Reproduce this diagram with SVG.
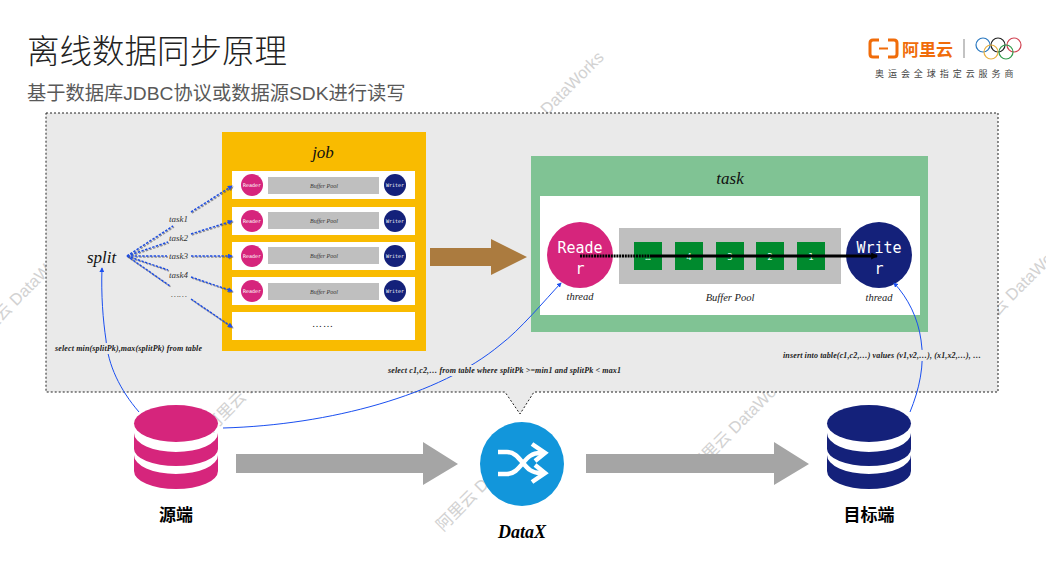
<svg xmlns="http://www.w3.org/2000/svg" width="1046" height="575" viewBox="0 0 1046 575">
<style>
.wm{font:16.5px "Liberation Sans","Noto Sans CJK SC",sans-serif;fill:#d2d2d2}
.ser{font-family:"Liberation Serif","Noto Sans CJK SC",serif;font-style:italic}
.sql{font:italic bold 8px "Liberation Serif",serif;fill:#1a1a1a}
.task{font:italic 9px "Liberation Serif",serif;fill:#333;}
.mini{font:5px "DejaVu Sans Mono",monospace;fill:#fff;text-anchor:middle}
.bp{font:italic 6px "Liberation Serif",serif;fill:#333;text-anchor:middle}
.row{fill:#fff}.buf{fill:#bfbfbf}.rd{fill:#d6257c}.wr{fill:#14217a}
.gr{fill:#008a2e}.num{font:9px "DejaVu Sans Mono",monospace;fill:#dfe;text-anchor:middle}
.big{font:15px "DejaVu Sans Mono","Noto Sans CJK SC",monospace;fill:#fff;text-anchor:middle}
.dash{fill:none;stroke:#1f4fe0;stroke-width:1.5;stroke-dasharray:2.4 1.4;filter:url(#sh)}
.blue{fill:none;stroke:#1a4ff0;stroke-width:1}
.cap{font:bold 17px "Noto Sans CJK SC",sans-serif;fill:#000;text-anchor:middle}
.ring{fill:none;stroke-width:1.2}
</style>
<defs>
<filter id="sh" filterUnits="userSpaceOnUse" x="100" y="170" width="150" height="170"><feDropShadow dx="1" dy="1" stdDeviation="0.6" flood-color="#555" flood-opacity="0.6"/></filter>
<marker id="ab" viewBox="0 0 6 6" refX="5" refY="3" markerWidth="5" markerHeight="5" orient="auto" markerUnits="userSpaceOnUse"><path d="M0 0L6 3L0 6z" fill="#1a4ff0"/></marker>
<marker id="ak" viewBox="0 0 6 6" refX="5" refY="3" markerWidth="7" markerHeight="7" orient="auto" markerUnits="userSpaceOnUse"><path d="M0 0L6 3L0 6z" fill="#000"/></marker>
</defs>
<rect width="1046" height="575" fill="#fff"/>
<g id="watermarks">
<text class="wm" transform="translate(-22,345) rotate(-45)">阿里云  DataWorks</text>
<text class="wm" transform="translate(212,433) rotate(-45)">阿里云  DataWorks</text>
<text class="wm" transform="translate(443,532) rotate(-45)">阿里云  DataWorks</text>
<text class="wm" transform="translate(509,154) rotate(-45)">阿里云  DataWorks</text>
<text class="wm" transform="translate(697,473) rotate(-45)">阿里云  DataWorks</text>
<text class="wm" transform="translate(974,340) rotate(-45)">阿里云  DataWorks</text>
</g>
<g id="title">
<text x="27" y="63" font-family="Noto Sans CJK SC,sans-serif" font-weight="300" font-size="32.5" fill="#222">离线数据同步原理</text>
<text x="27" y="99.500" font-family="Liberation Sans,Noto Sans CJK SC,sans-serif" font-size="19.250" fill="#595959">基于数据库JDBC协议或数据源SDK进行读写</text>
</g>
<g id="logo">
<path d="M879 40H873Q870 40 870 43V54Q870 57 873 57H879M888 40H894Q897 40 897 43V54Q897 57 894 57H888" fill="none" stroke="#f06c0a" stroke-width="3"/>
<rect x="879" y="47.5" width="9" height="2" fill="#f06c0a"/>
<text x="902" y="56" font-family="Noto Sans CJK SC,sans-serif" font-weight="700" font-size="17" fill="#f06c0a">阿里云</text>
<rect x="963.5" y="39" width="1" height="19" fill="#888"/>
<circle class="ring" cx="983" cy="45" r="7" stroke="#2a78c0"/>
<circle class="ring" cx="998" cy="45" r="7" stroke="#222"/>
<circle class="ring" cx="1014" cy="45" r="7" stroke="#d04050"/>
<circle class="ring" cx="991" cy="52" r="7" stroke="#e8b040"/>
<circle class="ring" cx="1006" cy="52" r="7" stroke="#2f9a4a"/>
<text x="875" y="77" font-family="Noto Sans CJK SC,sans-serif" font-size="9" letter-spacing="3.95" fill="#444">奥运会全球指定云服务商</text>
</g>
<path id="panel" d="M46 113H998V392H534L520 414L505 392H46Z" fill="#eaeaea" stroke="#222" stroke-width="1" stroke-dasharray="2 2"/>
<g id="job">
<rect x="222" y="132" width="204" height="219" fill="#f9bb00"/>
<text class="ser" x="323" y="158" font-size="17" text-anchor="middle" fill="#111">job</text>
<rect class="row" x="232" y="171" width="183" height="28"/><rect class="row" x="232" y="207" width="183" height="28"/><rect class="row" x="232" y="242" width="183" height="28"/><rect class="row" x="232" y="277" width="183" height="28"/><rect class="row" x="232" y="312" width="183" height="28"/>
<rect class="buf" x="268" y="177" width="111" height="17"/><rect class="buf" x="268" y="212" width="111" height="17"/><rect class="buf" x="268" y="247" width="111" height="17"/><rect class="buf" x="268" y="283" width="111" height="17"/>
<text class="bp" x="324" y="188">Buffer Pool</text><text class="bp" x="324" y="223">Buffer Pool</text><text class="bp" x="324" y="258">Buffer Pool</text><text class="bp" x="324" y="294">Buffer Pool</text>
<circle class="rd" cx="252" cy="185" r="11"/><circle class="rd" cx="252" cy="221" r="11"/><circle class="rd" cx="252" cy="256" r="11"/><circle class="rd" cx="252" cy="291" r="11"/>
<circle class="wr" cx="395" cy="185" r="11"/><circle class="wr" cx="395" cy="221" r="11"/><circle class="wr" cx="395" cy="256" r="11"/><circle class="wr" cx="395" cy="291" r="11"/>
<text class="mini" x="252" y="187">Reader</text><text class="mini" x="252" y="223">Reader</text><text class="mini" x="252" y="258">Reader</text><text class="mini" x="252" y="293">Reader</text>
<text class="mini" x="395" y="187">Writer</text><text class="mini" x="395" y="223">Writer</text><text class="mini" x="395" y="258">Writer</text><text class="mini" x="395" y="293">Writer</text>
<text x="323" y="327" font-family="Liberation Serif,serif" font-size="10" letter-spacing="1" text-anchor="middle" fill="#111">……</text>
</g>
<g id="split"><text class="ser" x="87" y="263" font-size="17" fill="#111">split</text></g>
<g id="tasks">
<text class="task" x="169" y="222">task1</text><text class="task" x="169" y="241">task2</text><text class="task" x="169" y="259">task3</text><text class="task" x="169" y="278">task4</text>
<text class="task" x="171" y="297">……</text>
</g>
<path id="big-arrow" d="M430 248H491V239L527 257L491 275V266H430Z" fill="#ab7b3f"/>
<g id="task">
<rect x="531" y="156" width="397" height="176" fill="#80c394"/>
<text class="ser" x="730" y="184" font-size="17" text-anchor="middle" fill="#111">task</text>
<rect x="540" y="196" width="380" height="119" fill="#fff"/>
<rect x="619" y="228" width="222" height="56" class="buf"/>
<rect class="gr" x="634" y="242" width="28" height="28"/><rect class="gr" x="675" y="242" width="28" height="28"/><rect class="gr" x="716" y="242" width="28" height="28"/><rect class="gr" x="756" y="242" width="28" height="28"/><rect class="gr" x="797" y="242" width="28" height="28"/>
<text class="num" x="648" y="260">…</text><text class="num" x="689" y="260">4</text><text class="num" x="730" y="260">3</text><text class="num" x="770" y="260">2</text><text class="num" x="811" y="260">1</text>
<circle class="rd" cx="580" cy="255" r="33"/><circle class="wr" cx="879" cy="255" r="33"/>
<text class="big" x="580" y="253">Reade</text><text class="big" x="580" y="274">r</text>
<text class="big" x="879" y="253">Write</text><text class="big" x="879" y="274">r</text>
<text class="ser" x="580" y="300" font-size="10.5" text-anchor="middle" fill="#222">thread</text>
<text class="ser" x="730" y="301" font-size="10.5" text-anchor="middle" fill="#222">Buffer Pool</text>
<text class="ser" x="879" y="301" font-size="10.5" text-anchor="middle" fill="#222">thread</text>
</g>
<g id="connectors">
<path d="M580 256H650" stroke="#000" stroke-width="2.8" stroke-dasharray="2 0.8" fill="none"/>
<path d="M650 256H877" stroke="#000" stroke-width="2.8" marker-end="url(#ak)" fill="none"/>
<path class="dash" d="M127 256L173 226"/><path class="dash" d="M191 212L232 186" marker-end="url(#ab)"/>
<path class="dash" d="M127 256L168 242"/><path class="dash" d="M191 234L232 221" marker-end="url(#ab)"/>
<path class="dash" d="M127 256L167 256"/><path class="dash" d="M191 256L232 256" marker-end="url(#ab)"/>
<path class="dash" d="M127 256L168 270"/><path class="dash" d="M191 277L232 291" marker-end="url(#ab)"/>
<path class="dash" d="M127 256L170 286"/><path class="dash" d="M191 299L232 327" marker-end="url(#ab)"/>
<path class="blue" d="M139 412C120 390 108 365 106 340C103 320 101 295 102 268" marker-end="url(#ab)"/>
<path class="blue" d="M223 428C330 425 440 395 500 345C520 330 545 300 561 283" marker-end="url(#ab)"/>
<path class="blue" d="M910 412C919 390 925 365 921 340C918 318 908 298 894 283" marker-end="url(#ab)"/>
</g>
<g id="sql-labels">
<rect x="55" y="343" width="147" height="11" fill="#eaeaea"/>
<text class="sql" x="55" y="351" textLength="147">select min(splitPk),max(splitPk) from table</text>
<rect x="388" y="365" width="234" height="11" fill="#eaeaea"/>
<text class="sql" x="388" y="373" textLength="233">select c1,c2,… from table where splitPk &gt;=min1 and splitPk &lt; max1</text>
<rect x="783" y="350" width="198" height="11" fill="#eaeaea"/>
<text class="sql" x="783" y="358" textLength="198">insert into table(c1,c2,…) values (v1,v2,…), (x1,x2,…), …</text>
</g>
<g id="flow-arrows" fill="#a5a5a5">
<path d="M236 454H423V442L458 464L423 485V473H236Z"/>
<path d="M586 454H774V442L809 464L774 485V473H586Z"/>
</g>
<g id="source-db" class="rd">
<ellipse cx="176" cy="423.500" rx="42" ry="18.500"/>
<path d="M134 433A42 19 0 0 0 218 433V449A42 17 0 0 1 134 449Z"/>
<path d="M134 455A42 19 0 0 0 218 455V471A42 18 0 0 1 134 471Z"/>
<text class="cap" x="176" y="521">源端</text>
</g>
<g id="datax">
<circle cx="522" cy="464" r="42" fill="#1296db"/>
<g fill="none" stroke="#fff" stroke-width="4.500">
<path d="M498 452H507C514 452 518 457 523 463C528 469 532 473 540 473H545"/>
<path d="M498 474H507C514 474 518 469 523 463C528 457 532 453 540 453H545"/>
<path d="M532 444L545 453L535 461"/>
<path d="M535 465L545 473L532 482"/>
</g>
<text x="522" y="538" font-family="Liberation Serif,serif" font-style="italic" font-weight="700" font-size="18" text-anchor="middle" fill="#000">DataX</text>
</g>
<g id="target-db" class="wr">
<ellipse cx="869" cy="423.500" rx="42" ry="18.500"/>
<path d="M827 433A42 19 0 0 0 911 433V449A42 17 0 0 1 827 449Z"/>
<path d="M827 455A42 19 0 0 0 911 455V471A42 18 0 0 1 827 471Z"/>
<text class="cap" x="869" y="521">目标端</text>
</g>
</svg>
